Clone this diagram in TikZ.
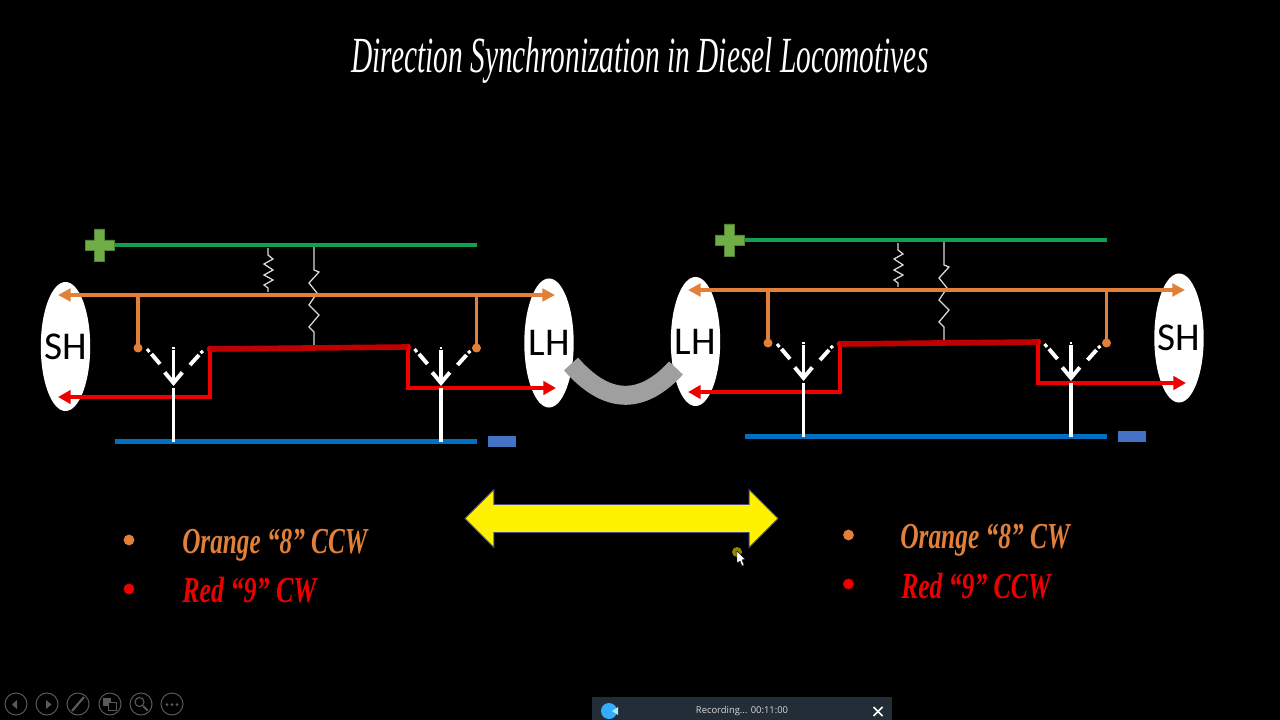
\documentclass[tikz,border=0pt]{standalone}
\usepackage{fontspec}
\usepackage{tikz}
\usetikzlibrary{shapes.geometric,   % ellipses
           shapes.arrows,           % double fleche
           arrows.meta}             % pointes
\setmainfont{Liberation Serif}
\newfontfamily\lobefont{Carlito}
\newfontfamily\barfont{Open Sans}
\definecolor{wiregreen}{RGB}{16,160,80}
\definecolor{wireorange}{RGB}{226,128,58}
\definecolor{wirered}{RGB}{238,0,0}
\definecolor{wiredark}{RGB}{192,0,0}
\definecolor{wireblue}{RGB}{0,112,192}
\definecolor{plusgreen}{RGB}{112,173,71}
\definecolor{boxblue}{RGB}{68,114,196}
\definecolor{barbg}{RGB}{34,45,56}
\definecolor{navgrey}{RGB}{90,90,90}
\tikzset{
  greenwire/.style={wiregreen,line width=3pt},
  bluewire/.style={wireblue,line width=3pt},
  orangewire/.style={wireorange,line width=3pt,{Triangle[length=9pt,width=9pt]}-{Triangle[length=9pt,width=9pt]}},
  redwire/.style={wirered,line width=3.2pt,-{Triangle[length=9pt,width=9.5pt]}},
  darkwire/.style={wiredark,line width=4pt},
  stub/.style={wireorange,line width=2.8pt},
  blade/.style={white,line width=2.8pt},
  zigzagwire/.style={white!85!black,line width=0.9pt},
  lobe/.style={ellipse,fill=white,inner sep=0,minimum width=1.235cm,minimum height=3.225cm},
  lobetext/.style={text=black,inner sep=0,font=\lobefont\fontsize{28}{28}\selectfont},
  dot/.style={circle,inner sep=0,minimum size=#1},
  navbtn/.style={circle,draw=navgrey,line width=0.7pt,inner sep=0,minimum size=0.55cm}
}
\begin{document}
\begin{tikzpicture}[x=0.025cm,y=-0.025cm]
\useasboundingbox (0,0) rectangle (1280,720);
\fill[black] (0,0) rectangle (1280,720);
\node[white](title)at(640,60){\scalebox{0.58}[1]{\fontsize{36}{36}\selectfont\itshape Direction Synchronization in Diesel Locomotives}};
\foreach \side/\dx/\dy/\heada/\headb in {l/0/0/SH/LH,r/630/-5/LH/SH}{
\begin{scope}[shift={(\dx,\dy)}]
\node[lobe,label={[lobetext]center:\heada}](\side A)at(65.5,346.5){};
\node[lobe,label={[lobetext]center:\headb}](\side B)at(549,343){};
\fill[plusgreen,draw=plusgreen!75!black,line width=0.5pt](94.5,229)--++(9.5,0)--++(0,11)--++(10,0)--++(0,10)--++(-10,0)--++(0,11)--++(-9.5,0)--++(0,-11)--++(-9.5,0)--++(0,-10)--++(9.5,0)--cycle;
\coordinate(\side gl)at(115,245);
\coordinate(\side gr)at(477,245);
\coordinate(\side bl)at(115,441.5);
\coordinate(\side br)at(477,441.5);
\coordinate(\side ol)at(58,295);
\coordinate(\side or)at(555,295);
\coordinate(\side rl)at(58,397);
\coordinate(\side rr)at(556,388);
\node[dot=0.225cm,fill=wireorange](\side oa)at(138,348){};
\node[dot=0.225cm,fill=wireorange](\side ob)at(476.5,348){};
\node[dot=0.15cm,fill=wirered,draw=wiredark](\side da)at(210,349){};
\node[dot=0.15cm,fill=wirered,draw=wiredark](\side db)at(408,347){};
\draw[zigzagwire](268,245)--(268,255)--(273,259)--(264,264)--(273,270)--(264,275)--(273,280)--(264,285)--(268,288)--(268,295);
\draw[zigzagwire](314,245)--(314,270)--(319,272)--(309,283)--(317,293)--(309,305)--(319,315)--(309,327)--(314,332)--(314,347);
\draw[greenwire](\side gl)--(\side gr);
\draw[bluewire](\side bl)--(\side br);
\draw[orangewire](\side ol)--(\side or);
\draw[black,line width=0.7pt](262,247.5)--(274,247.5);
\draw[black,line width=0.7pt](262,292.5)--(274,292.5);
\draw[stub](138,295)--(\side oa.center);
\draw[stub](476.5,295)--(\side ob.center);
\draw[redwire](\side da.center)|-(\side rl);
\draw[redwire](\side db.center)|-(\side rr);
\draw[darkwire](\side da.center)--(\side db.center);
\fill[boxblue](488,436)rectangle(516,447);
\foreach \sx in {173.5,441}{
\draw[white,line width=2.4pt,-{Straight Barb[length=7.5pt,width=12.5pt,line width=2.8pt]}](\sx,350)--(\sx,386);
\draw[white,line width=1.6pt](\sx,347)--(\sx,349);
\draw[blade](\sx,388)--(\sx,442);
\draw[blade]({\sx-22},354)--({\sx-13.5},364);
\draw[white,line width=2.2pt]({\sx-26.5},349)--({\sx-24},352);
\draw[blade]({\sx+25.5},355)--({\sx+16.5},365);
\draw[white,line width=2.2pt]({\sx+29.5},351)--({\sx+27},353);
}
\end{scope}
}
\coordinate(arcl)at(571,364);
\coordinate(arcr)at(676,368);
\draw[gray!75,line width=13.5pt](arcl)..controls(606,404)and(641,406)..(arcr);
\node[double arrow,draw=black!40!blue!40!gray,line width=0.6pt,fill=yellow,minimum height=7.825cm,minimum width=1.425cm,inner sep=0.3375cm,double arrow head extend=0.375cm,text width=0cm](swap)at(621.5,518.5){};
\node[dot=0.27cm,fill=wireorange](ol)at(129,540){};
\node[dot=0.27cm,fill=wirered](rl)at(129,589){};
\node[dot=0.27cm,fill=wireorange](orr)at(848.5,535){};
\node[dot=0.27cm,fill=wirered](rr)at(848.5,584){};
\node[wireorange,anchor=west,inner sep=0](ltxt)at(182,545){\scalebox{0.69}[1]{\fontsize{26}{26}\selectfont\bfseries\itshape Orange “8” CCW}};
\node[wirered,anchor=west,inner sep=0](ltxb)at(182,590){\scalebox{0.71}[1]{\fontsize{26}{26}\selectfont\bfseries\itshape Red “9” CW}};
\node[wireorange,anchor=west,inner sep=0](rtxt)at(900,540){\scalebox{0.695}[1]{\fontsize{26}{26}\selectfont\bfseries\itshape Orange “8” CW}};
\node[wirered,anchor=west,inner sep=0](rtxb)at(901,586){\scalebox{0.70}[1]{\fontsize{26}{26}\selectfont\bfseries\itshape Red “9” CCW}};
\fill[olive](737,552)circle(5);
\fill[white,draw=black,line width=0.3pt](737,551)--(737,563)--(740,561)--(742,566)--(744,565)--(742,560)--(745,559)--cycle;
\foreach \nx/\nid in {16/a,47/b,78/c,110/d,141/e,172/f}{
\node[navbtn](nav\nid)at(\nx,704){};
}
\fill[navgrey](17,700)--(17,709)--(12,704.5)--cycle;
\fill[navgrey](46,700)--(46,709)--(51.5,704.5)--cycle;
\draw[navgrey,line width=1.6pt](72,711)--(84,697);
\draw[navgrey,line width=0.7pt,fill=navgrey](103,698)rectangle(110,705);
\draw[navgrey,line width=0.7pt,fill=black](108,702)rectangle(116,710);
\draw[navgrey,line width=0.8pt](139.5,702)circle(4.5);
\draw[navgrey,line width=1.3pt](143,706)--(147.5,710.5);
\foreach \nx in {167,172,177}{
\fill[navgrey](\nx,704.5)circle(1.5);
}
\fill[barbg](592,697)rectangle(892,720);
\fill[blue!40!cyan!80!white](609,711)circle(8);
\fill[white!70!cyan](612,711)--(618,707)--(618,715)--cycle;
\node[white!85!black,font=\barfont\fontsize{6.7}{6.7}\selectfont](rec)at(742,711.5){Recording... 00:11:00};
\draw[white,line width=1.2pt](873.5,707)--(882.5,716);
\draw[white,line width=1.2pt](882.5,707)--(873.5,716);
\end{tikzpicture}
\end{document}
